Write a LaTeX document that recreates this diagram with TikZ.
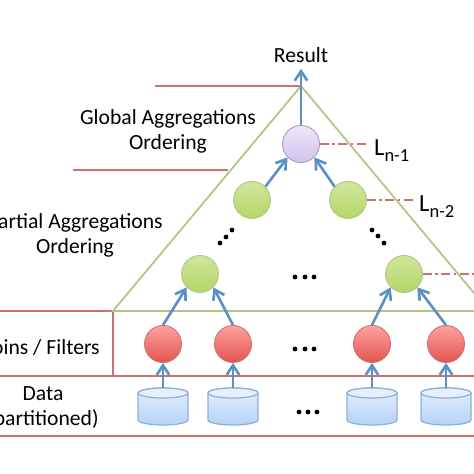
\documentclass[tikz,border=0pt]{standalone}
\usepackage{fontspec}
\setmainfont{Carlito}
\usepackage{xcolor}
\usepackage{tikz}
\usetikzlibrary{arrows.meta,positioning,calc}

\definecolor{bandred}{HTML}{C9726F}
\definecolor{triagreen}{HTML}{B4C483}
\definecolor{flowblue}{HTML}{5A90C4}
\definecolor{dataedge}{HTML}{8DB0D8}
\definecolor{datatop}{HTML}{E6F0FC}
\definecolor{datalow}{HTML}{B4D2F8}

\begin{document}
\begin{tikzpicture}[
        joinbox/.style={circle, draw=bandred, line width=0.5pt, minimum size=0.74cm, inner sep=0pt, top color={rgb,255:red,255;green,160;blue,158}, bottom color={rgb,255:red,226;green,85;blue,80}},
        partbox/.style={circle, draw=triagreen, line width=0.5pt, minimum size=0.74cm, inner sep=0pt, top color={rgb,255:red,208;green,230;blue,155}, bottom color={rgb,255:red,180;green,214;blue,105}},
        rootbox/.style={circle, draw={rgb,255:red,170;green,150;blue,200}, line width=0.5pt, minimum size=0.74cm, inner sep=0pt, top color={rgb,255:red,238;green,232;blue,248}, bottom color={rgb,255:red,208;green,194;blue,235}},
        databox/.style={rectangle, minimum width=1.0cm, minimum height=0.54cm, inner sep=0pt, outer sep=0pt},
        label/.style={align=center, font=\fontsize{12.3}{14.2}\selectfont},
        level/.style={font=\fontsize{14}{15}\selectfont, anchor=west},
        arrow/.style={-{Straight Barb[length=1.9mm, width=2.5mm]}, line width=1.5pt, draw=flowblue},
        bandline/.style={draw=bandred, line width=1pt},
        triline/.style={draw=triagreen, line width=1pt},
        levelline/.style={draw=bandred, line width=0.7pt, dash pattern=on 5pt off 2pt on 1.5pt off 2pt}
    ]

    \clip (0, 0) rectangle (9.48, 9.48);

    % Bands on the left and across
    \coordinate (apex) at (6.02, 7.76);
    \coordinate (baseleft) at (2.26, 3.26);
    \coordinate (baseright) at (9.78, 3.26);
    \draw[bandline, line width=0.8pt] (3.10, 7.76) -- (apex);
    \draw[bandline, line width=0.8pt] (1.46, 6.08) -- (4.56, 6.08);
    \draw[bandline] (0, 3.26) -- (baseleft) -- (2.26, 1.96);
    \draw[bandline] (0, 1.96) -- (9.48, 1.96);
    \draw[bandline] (0, 0.76) -- (9.48, 0.76);

    % Triangle
    \draw[triline] (baseright) -- (apex) -- (baseleft) -- cycle;

    % Labels on the left
    \node[label] (global) at (3.36, 6.86) {Global Aggregations\\Ordering};
    \node[label] (partial) at (1.50, 4.78) {Partial Aggregations\\Ordering};
    \node[label] (joins) at (0.85, 2.54) {Joins / Filters};
    \node[label] (data) at (0.86, 1.32) {Data\\(partitioned)};

    % Operators
    \node[label] (result) at (6.02, 8.38) {Result};
    \node[rootbox] (root) at (6.02, 6.60) {};
    \node[partbox] (part1) at (5.04, 5.48) {};
    \node[partbox] (part2) at (6.96, 5.48) {};
    \node[partbox] (part3) at (4.00, 4.00) {};
    \node[partbox] (part4) at (8.08, 4.00) {};
    \node[joinbox] (join1) at (3.26, 2.60) {};
    \node[joinbox] (join2) at (4.66, 2.60) {};
    \node[joinbox] (join3) at (7.44, 2.60) {};
    \node[joinbox] (join4) at (8.92, 2.60) {};

    % Data
    \foreach \i/\x in {1/3.26, 2/4.66, 3/7.44, 4/8.92} {
        \node[databox] (data\i) at (\x, 1.35) {};
        \draw[dataedge, line width=0.7pt, top color=datatop, bottom color=datalow] (data\i.north west) -- (data\i.south west) arc[start angle=180, end angle=360, x radius=0.5, y radius=0.1] -- (data\i.north east) arc[start angle=0, end angle=180, x radius=0.5, y radius=0.1] -- cycle;
        \draw[dataedge, line width=0.7pt, fill=datatop] (data\i.north) ellipse (0.5 and 0.1);
    }

    % Levels
    \node[level] (ln1) at (7.36, 6.46) {L\raisebox{-0.5ex}{\fontsize{10.5}{11}\selectfont n-1}};
    \node[level] (ln2) at (8.26, 5.34) {L\raisebox{-0.5ex}{\fontsize{10.5}{11}\selectfont n-2}};
    \coordinate (ln3) at (9.48, 4.00);
    \draw[levelline] (root.east) -- (ln1.west |- root);
    \draw[levelline] (part2.east) -- (ln2.west |- part2);
    \draw[levelline] (part4.east) -- (ln3);

    % Arrows
    \draw[arrow] (root.north) -- (result.south);
    \draw[arrow] (part1.north east) -- (root.south west);
    \draw[arrow] (part2.north west) -- (root.south east);
    \draw[arrow] (join1.north) -- (part3.south west);
    \draw[arrow] (join2.north) -- (part3.south east);
    \draw[arrow] (join3.north) -- (part4.south west);
    \draw[arrow] (join4.north) -- (part4.south east);
    \foreach \i in {1,2,3,4}
        \draw[arrow] ([yshift=0.1cm]data\i.north) -- (join\i.south);

    % Dots
    \foreach \x/\y in {5.90/3.94, 6.10/3.94, 6.28/3.94, 5.90/2.50, 6.10/2.50, 6.28/2.50, 5.98/1.24, 6.16/1.24, 6.34/1.24, 4.40/4.62, 4.52/4.74, 4.64/4.88, 7.44/4.88, 7.56/4.76, 7.68/4.62}
        \fill[black] (\x, \y) circle (0.048);

\end{tikzpicture}
\end{document}
